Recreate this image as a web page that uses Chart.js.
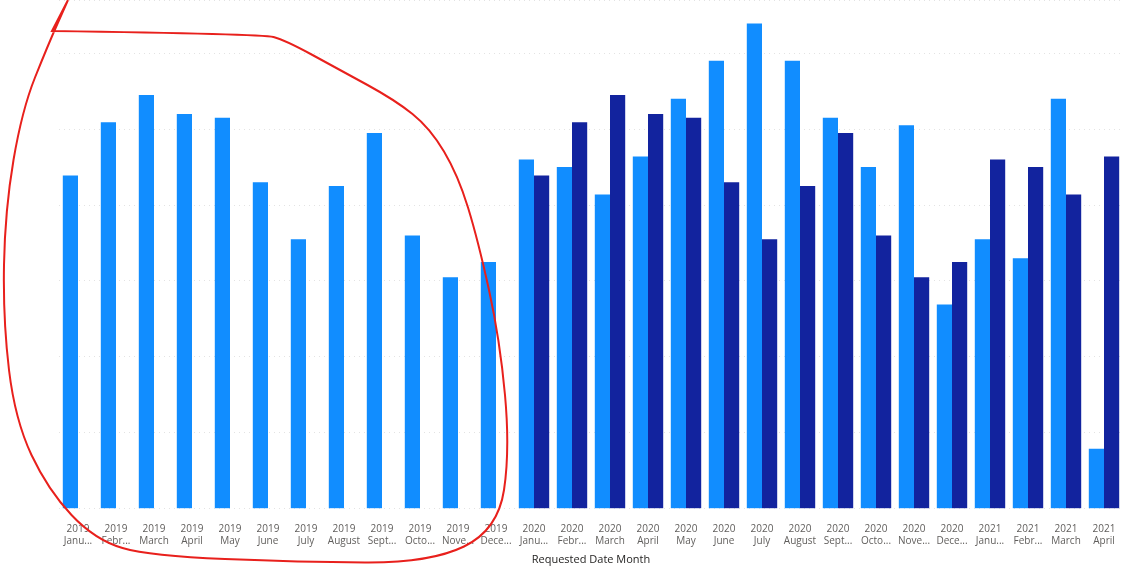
<!DOCTYPE html>
<html>
<head>
<meta charset="utf-8">
<script src="https://cdn.jsdelivr.net/npm/chart.js@4"></script>
<style>
  html, body { margin: 0; padding: 0; background: #fff; }
  #wrap { width: 1130px; height: 570px; }
</style>
</head>
<body>
<div id="wrap"><canvas id="chart"></canvas></div>
<script>
const years = ["2019","2019","2019","2019","2019","2019","2019","2019","2019","2019","2019","2019",
  "2020","2020","2020","2020","2020","2020","2020","2020","2020","2020","2020","2020",
  "2021","2021","2021","2021"];
const months = ["Janu...","Febr...","March","April","May","June","July","August","Sept...","Octo...","Nove...","Dece...",
  "Janu...","Febr...","March","April","May","June","July","August","Sept...","Octo...","Nove...","Dece...",
  "Janu...","Febr...","March","April"];
const currentYear = [43.9, 50.9, 54.5, 52, 51.5, 43, 35.5, 42.5, 49.5, 36, 30.5, 32.5,
  46, 45, 41.4, 46.4, 54, 59, 63.9, 59, 51.5, 45, 50.5, 26.9,
  35.5, 33, 54, 7.9];
const previousYear = [null, null, null, null, null, null, null, null, null, null, null, null,
  43.9, 50.9, 54.5, 52, 51.5, 43, 35.5, 42.5, 49.5, 36, 30.5, 32.5,
  46, 45, 41.4, 46.4];

// hand-drawn red outline around the 2019 bars
const scribble = [[52,31],[262,34],[285,40],[340,70],[395,100],[430,128],[458,175],[478,240],
  [500,340],[510,450],[498,530],[430,563],[300,562],[150,556],[95,540],[48,490],[15,420],[3,320],
  [5,210],[22,110],[48,45],[68,0]];

const scribblePlugin = {
  id: "scribble",
  afterDraw(chart) {
    const ctx = chart.ctx;
    ctx.save();
    ctx.strokeStyle = "#e8201c";
    ctx.lineWidth = 2;
    ctx.beginPath();
    ctx.moveTo(68, 0);
    ctx.lineTo(scribble[0][0], scribble[0][1]);
    for (let i = 1; i < scribble.length - 1; i++) {
      const mx = (scribble[i][0] + scribble[i + 1][0]) / 2;
      const my = (scribble[i][1] + scribble[i + 1][1]) / 2;
      ctx.quadraticCurveTo(scribble[i][0], scribble[i][1], mx, my);
    }
    const last = scribble[scribble.length - 1];
    ctx.lineTo(last[0], last[1]);
    ctx.stroke();
    ctx.restore();
  }
};

const labels = years.map((y, i) => [y, months[i]]);

new Chart(document.getElementById("chart"), {
  type: "bar",
  data: {
    labels: labels,
    datasets: [
      { label: "Current", data: currentYear, backgroundColor: "#118DFF" },
      { label: "Previous year", data: previousYear, backgroundColor: "#12239E" }
    ]
  },
  options: {
    responsive: true,
    maintainAspectRatio: false,
    animation: false,
    layout: { padding: { left: 59, right: 7, top: 0, bottom: 0 } },
    plugins: { legend: { display: false }, tooltip: { enabled: false } },
    datasets: { bar: { categoryPercentage: 0.8, barPercentage: 1 } },
    scales: {
      x: {
        grid: { display: false },
        border: { display: false },
        ticks: { color: "#605E5C", font: { family: "Open Sans", size: 10 }, maxRotation: 0, autoSkip: false, padding: 6 },
        title: { display: true, text: "Requested Date Month", color: "#252423", font: { family: "Open Sans", size: 11 }, padding: { top: 0 } }
      },
      y: {
        min: 0,
        max: 67,
        ticks: { display: false, stepSize: 10 },
        border: { display: false, dash: [1, 4] },
        grid: { color: "#E3E3E3", lineWidth: 1, drawTicks: false }
      }
    }
  },
  plugins: [scribblePlugin]
});
</script>
</body>
</html>
